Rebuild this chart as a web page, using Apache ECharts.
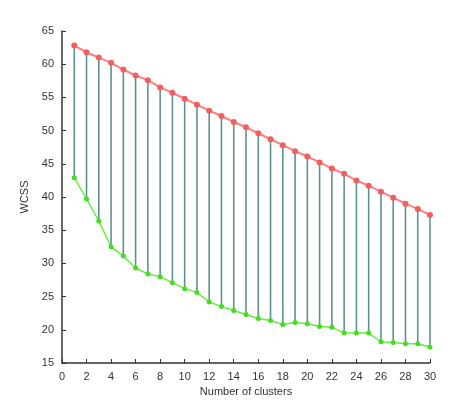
<!DOCTYPE html>
<html><head><meta charset="utf-8">
<script src="https://cdn.jsdelivr.net/npm/echarts@6/dist/echarts.min.js"></script>
<style>html,body{margin:0;padding:0;background:#fff}#c{width:474px;height:409px}</style>
</head><body><div id="c"></div>
<script>
const clusters = [1,2,3,4,5,6,7,8,9,10,11,12,13,14,15,16,17,18,19,20,21,22,23,24,25,26,27,28,29,30];
const wcssUpper = [62.8,61.8,61.0,60.2,59.2,58.3,57.6,56.5,55.7,54.8,53.9,53.0,52.2,51.3,50.5,49.6,48.7,47.8,46.9,46.1,45.2,44.3,43.5,42.5,41.7,40.8,39.9,39.0,38.2,37.3];
const wcssLower = [42.9,39.7,36.4,32.5,31.1,29.3,28.4,28.0,27.1,26.2,25.6,24.2,23.5,22.9,22.3,21.7,21.4,20.8,21.1,20.9,20.5,20.4,19.5,19.5,19.5,18.2,18.1,17.9,17.9,17.4];
const upperPts = clusters.map((c,i)=>[c,wcssUpper[i]]);
const lowerPts = clusters.map((c,i)=>[c,wcssLower[i]]);
const stems = clusters.map((c,i)=>[c,wcssUpper[i],wcssLower[i]]);
const chart = echarts.init(document.getElementById('c'));
const axisCommon = {
  axisLine:{show:true,lineStyle:{color:'#333',width:1.5}},
  axisTick:{show:true,inside:true,length:4,lineStyle:{color:'#333'}},
  axisLabel:{color:'#333',fontSize:11,fontFamily:'Liberation Sans'},
  splitLine:{show:false}
};
chart.setOption({
  animation:false,
  grid:{left:62,right:44,top:31,bottom:46},
  xAxis:Object.assign({type:'value',min:0,max:30,interval:2,name:'Number of clusters',nameLocation:'middle',nameGap:18,
    nameTextStyle:{color:'#333',fontSize:11,fontFamily:'Liberation Sans'}},axisCommon),
  yAxis:Object.assign({type:'value',min:15,max:65,interval:5,name:'WCSS',nameLocation:'middle',nameGap:26,
    nameTextStyle:{color:'#333',fontSize:11,fontFamily:'Liberation Sans'}},axisCommon),
  series:[
    {type:'custom',data:stems,z:1,renderItem:(params,api)=>{
      const a=api.coord([api.value(0),api.value(1)]);
      const b=api.coord([api.value(0),api.value(2)]);
      return {type:'line',shape:{x1:a[0],y1:a[1],x2:b[0],y2:b[1]},style:{stroke:'#5f9192',lineWidth:1.6}};
    }},
    {type:'line',data:upperPts,z:3,symbol:'circle',symbolSize:6,lineStyle:{color:'#ff8080',width:2},itemStyle:{color:'#f06060'}},
    {type:'line',data:lowerPts,z:3,symbol:'circle',symbolSize:5,lineStyle:{color:'#66ee44',width:1.5},itemStyle:{color:'#44dd22'}}
  ]
});
</script></body></html>
